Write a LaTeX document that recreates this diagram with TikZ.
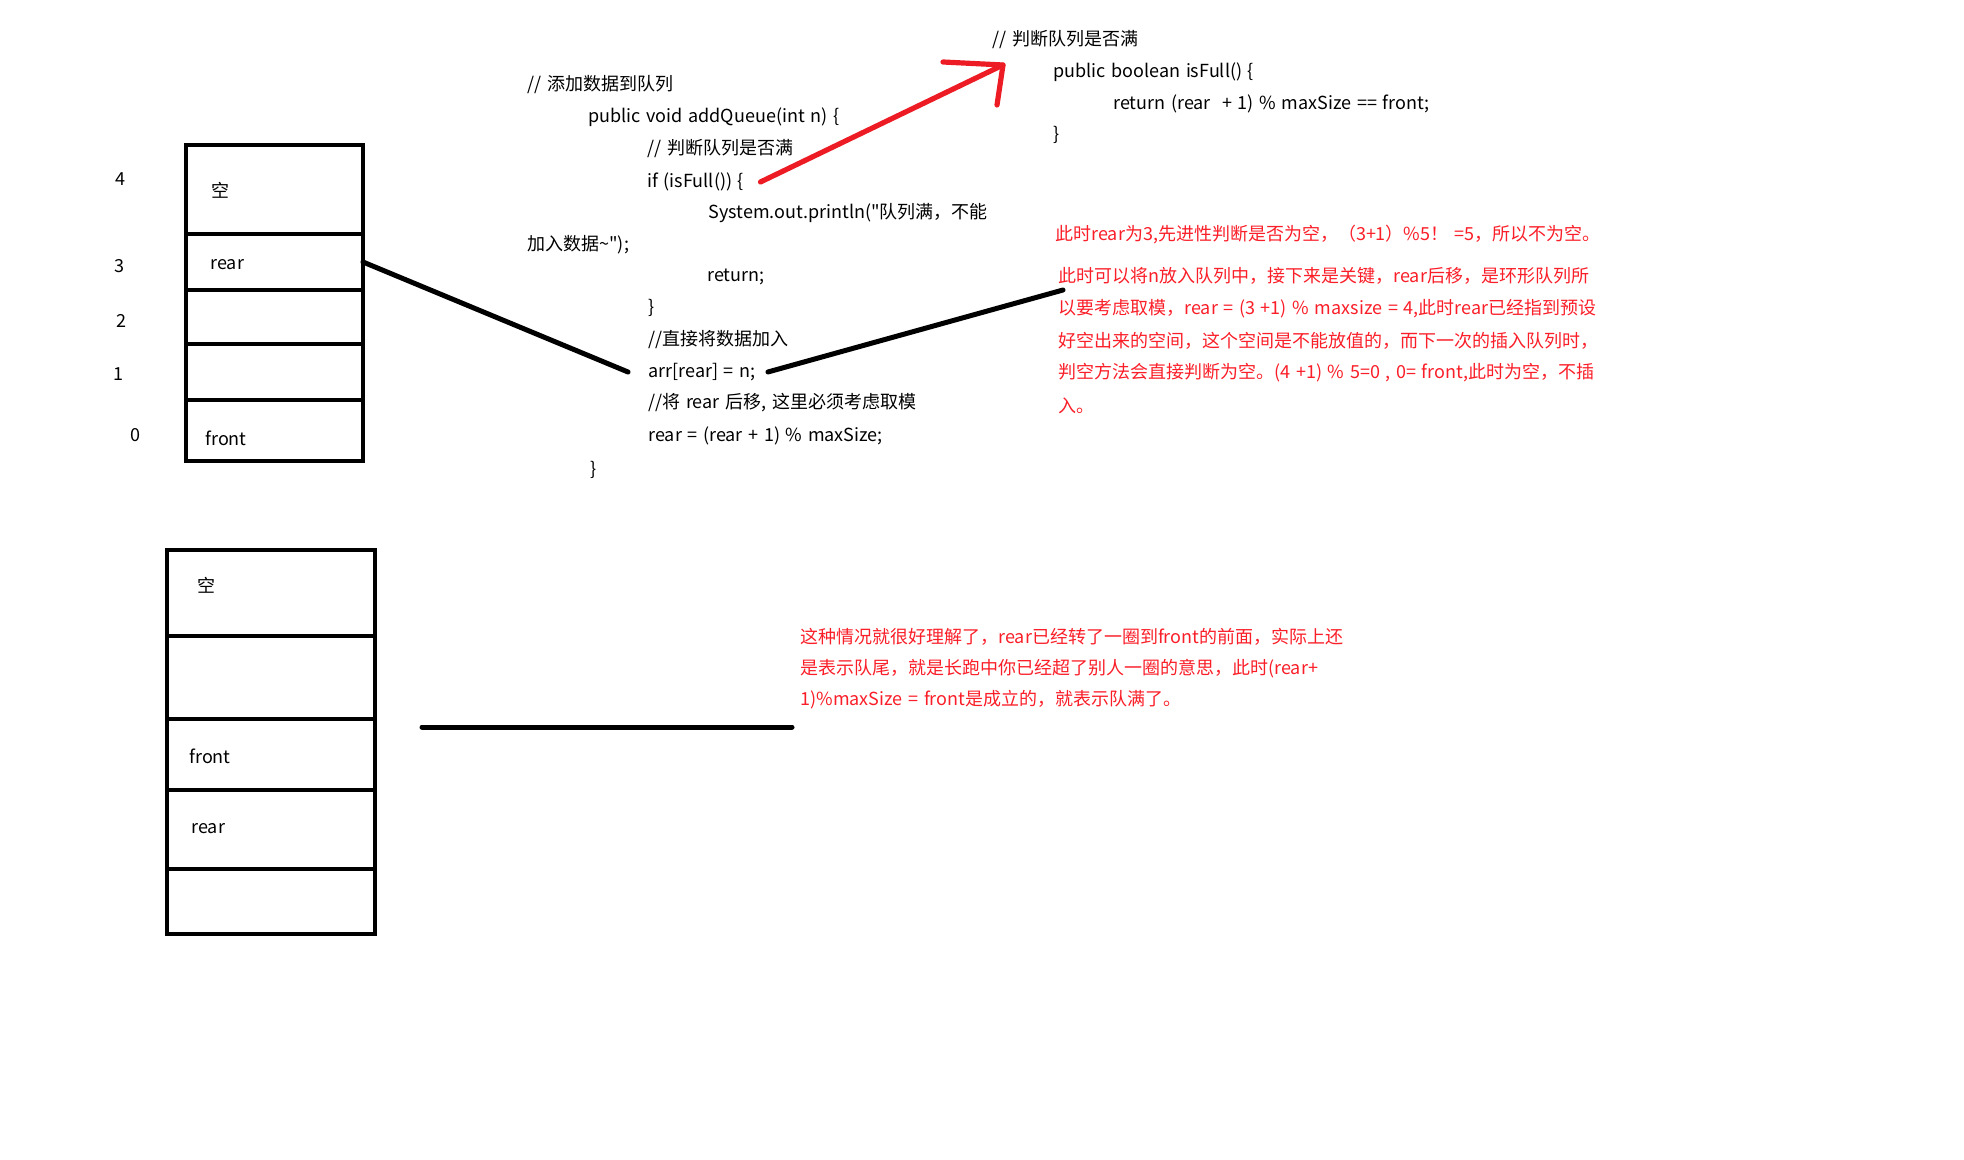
\documentclass[tikz,border=0pt]{standalone}
\usepackage{fontspec}
\setmainfont{Noto Sans CJK SC}[WordSpace=1.4]
\definecolor{penred}{RGB}{237,28,36}
\definecolor{txtred}{RGB}{250,30,40}
\begin{document}
\begin{tikzpicture}[x=0.5pt,y=-0.5pt,
  txt/.style={anchor=west,inner sep=0pt,font=\fontsize{9}{11}\selectfont,text height=7.2pt,text depth=1.8pt},
  num/.style={inner sep=0pt,font=\fontsize{9}{11}\selectfont},
  note/.style={txt,text=txtred},
  cell/.style={draw,line width=2.3pt,inner sep=0pt,outer sep=0pt,anchor=north west},
  topcell/.style={cell,minimum width=88.5pt},
  botcell/.style={cell,minimum width=104pt},
  link/.style={line width=2.5pt,line cap=round},
  pen/.style={draw=penred,line width=2.6pt,line cap=round,line join=round}]
\useasboundingbox (0,0) rectangle (1964,1160);

% ---------- top array ----------
\node[topcell,minimum height=44.5pt] (t4) at (186,145) {};
\node[topcell,minimum height=28pt]   (t3) at (t4.south west) {};
\node[topcell,minimum height=27pt]   (t2) at (t3.south west) {};
\node[topcell,minimum height=28pt]   (t1) at (t2.south west) {};
\node[topcell,minimum height=30.5pt] (t0) at (t1.south west) {};
\node[num] (n4) at (120,179) {4};
\node[num] (n3) at (119,266) {3};
\node[num] (n2) at (121,321) {2};
\node[num] (n1) at (118,374) {1};
\node[num] (n0) at (135,435) {0};
\node[num] (tk) at (220,190) {空};
\node[txt] (trear) at (210,264) {rear};
\node[txt] (tfront) at (205,440) {front};

% ---------- bottom array ----------
\node[botcell,minimum height=43pt]   (b4) at (167,550) {};
\node[botcell,minimum height=41.5pt] (b3) at (b4.south west) {};
\node[botcell,minimum height=35.5pt] (b2) at (b3.south west) {};
\node[botcell,minimum height=39.5pt] (b1) at (b2.south west) {};
\node[botcell,minimum height=32.5pt] (b0) at (b1.south west) {};
\node[num] (bk) at (206,585) {空};
\node[txt] (bfront) at (189,758) {front};
\node[txt] (brear) at (191,828) {rear};

% ---------- addQueue code ----------
\node[txt] (c1)  at (527,85)  {// 添加数据到队列};
\node[txt] (c2)  at (588,117) {public void addQueue(int n) \{};
\node[txt] (c3)  at (647,149) {// 判断队列是否满};
\node[txt] (c4)  at (647,182) {if (isFull()) \{};
\node[txt] (c5)  at (708,213) {System.out.println(\textquotedbl 队列满，不能};
\node[txt] (c6)  at (527,245) {加入数据\textasciitilde\textquotedbl);};
\node[txt] (c7)  at (707,276) {return;};
\node[txt] (c8)  at (648,308) {\}};
\node[txt] (c9)  at (648,340) {//直接将数据加入};
\node[txt] (arr) at (648,372) {arr[rear] = n;};
\node[txt] (c11) at (648,403) {//将 rear 后移, 这里必须考虑取模};
\node[txt] (c12) at (648,436) {rear = (rear + 1) \% maxSize;};
\node[txt] (c13) at (590,470) {\}};

% ---------- isFull code ----------
\node[txt] (f1) at (992,40)   {// 判断队列是否满};
\node[txt] (f2) at (1053,72)  {public boolean isFull() \{};
\node[txt] (f3) at (1113,104) {return (rear\ \ + 1) \% maxSize == front;};
\node[txt] (f4) at (1053,135) {\}};

% ---------- red notes ----------
\node[note] (r0) at (1055,235) {此时rear为3,先进性判断是否为空，（3+1）\%5！ =5，所以不为空。};
\node[note] (r1) at (1058,277) {此时可以将n放入队列中，接下来是关键，rear后移，是环形队列所};
\node[note] (r2) at (1058,309) {以要考虑取模，rear = (3 +1) \% maxsize = 4,此时rear已经指到预设};
\node[note] (r3) at (1058,342) {好空出来的空间，这个空间是不能放值的，而下一次的插入队列时，};
\node[note] (r4) at (1058,373) {判空方法会直接判断为空。(4 +1) \% 5=0 , 0= front,此时为空，不插};
\node[note] (r5) at (1058,407) {入。};

\node[note] (s1) at (800,638) {这种情况就很好理解了，rear已经转了一圈到front的前面，实际上还};
\node[note] (s2) at (800,669) {是表示队尾，就是长跑中你已经超了别人一圈的意思，此时(rear+};
\node[note] (s3) at (800,700) {1)\%maxSize = front是成立的，就表示队满了。};

% ---------- connectors ----------
\coordinate (tip) at (1003,65);
\coordinate (noteend) at (1063,290);
\coordinate (hstart) at (422,727);
\coordinate (hend) at (792,727);
\draw[link] (t3.east) -- ([xshift=-10pt]arr.west);
\draw[link] ([xshift=6pt]arr.east) -- (noteend);
\draw[link] (hstart) -- (hend);
\draw[pen] ([xshift=8pt]c4.east) -- (tip);
\draw[pen] (943,62) -- (tip) -- (997,105);
\end{tikzpicture}
\end{document}
